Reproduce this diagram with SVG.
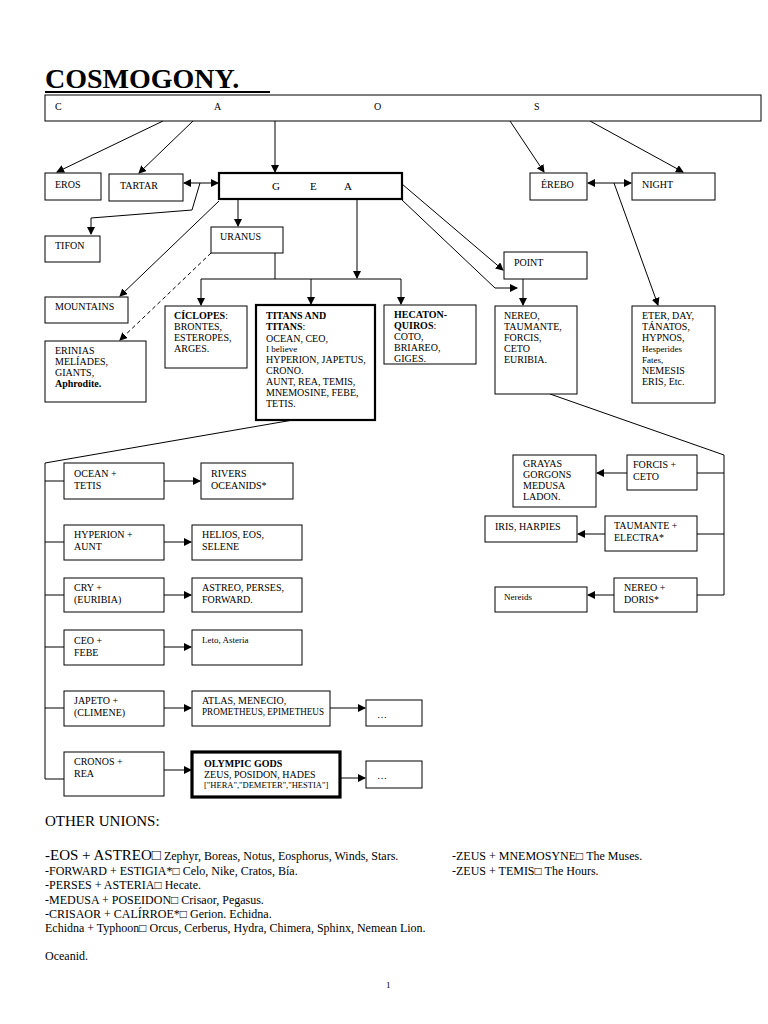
<svg xmlns="http://www.w3.org/2000/svg" width="768" height="1024" viewBox="0 0 768 1024">
<style>
text{font-family:"Liberation Serif","Times New Roman",serif;fill:#000}
.n{font-size:10px}
.b{font-weight:bold}
.box{fill:#fff;stroke:#000;stroke-width:1}
.thk{fill:#fff;stroke:#000;stroke-width:2.2}
.c{fill:none;stroke:#000;stroke-width:1}
.u{font-size:12px}
</style>
<defs>
<marker id="a" markerWidth="8" markerHeight="8" refX="7" refY="4" orient="auto-start-reverse" markerUnits="userSpaceOnUse"><path d="M0,0 L8,4 L0,8 z" fill="#000"/></marker>
</defs>
<rect width="768" height="1024" fill="#fff"/>
<text x="45" y="88" font-size="28" class="b">COSMOGONY.</text>
<line x1="45" y1="92" x2="270" y2="92" stroke="#000" stroke-width="2"/>

<g id="connectors">
<line class="c" x1="163" y1="121" x2="57" y2="172" marker-end="url(#a)"/>
<line class="c" x1="193" y1="121" x2="139" y2="173" marker-end="url(#a)"/>
<line class="c" x1="275" y1="121" x2="275" y2="172" marker-end="url(#a)"/>
<line class="c" x1="510" y1="121" x2="544" y2="172" marker-end="url(#a)"/>
<line class="c" x1="590" y1="121" x2="683" y2="172" marker-end="url(#a)"/>
<line class="c" x1="184" y1="183" x2="218" y2="183" marker-start="url(#a)" marker-end="url(#a)"/>
<polyline class="c" points="200,183 192,210 91,218 91,234" marker-end="url(#a)"/>
<line class="c" x1="238" y1="200" x2="238" y2="226" marker-end="url(#a)"/>
<line class="c" x1="219" y1="201" x2="120" y2="296" marker-end="url(#a)"/>
<line class="c" x1="211" y1="253" x2="120" y2="340" stroke-dasharray="4,3" marker-end="url(#a)"/>
<polyline class="c" points="275,253 275,279"/>
<polyline class="c" points="201,305 201,279 401,279 401,304" marker-start="url(#a)" marker-end="url(#a)"/>
<line class="c" x1="311" y1="279" x2="311" y2="304" marker-end="url(#a)"/>
<line class="c" x1="357" y1="200" x2="357" y2="278" marker-end="url(#a)"/>
<line class="c" x1="402" y1="184" x2="503" y2="270" marker-end="url(#a)"/>
<polyline class="c" points="402,200 495,288 517,288" marker-end="url(#a)"/>
<line class="c" x1="523" y1="279" x2="523" y2="305" marker-end="url(#a)"/>
<line class="c" x1="588" y1="183" x2="631" y2="183" marker-start="url(#a)" marker-end="url(#a)"/>
<line class="c" x1="614" y1="183" x2="658" y2="305" marker-end="url(#a)"/>
<polyline class="c" points="293,420 45,463 45,779"/>
<line class="c" x1="45" y1="481" x2="64" y2="481"/>
<line class="c" x1="45" y1="542" x2="64" y2="542"/>
<line class="c" x1="45" y1="595" x2="64" y2="595"/>
<line class="c" x1="45" y1="647" x2="64" y2="647"/>
<line class="c" x1="45" y1="708" x2="64" y2="708"/>
<line class="c" x1="45" y1="779" x2="64" y2="779"/>
<line class="c" x1="164" y1="481" x2="200" y2="481" marker-end="url(#a)"/>
<line class="c" x1="164" y1="542" x2="191" y2="542" marker-end="url(#a)"/>
<line class="c" x1="164" y1="595" x2="191" y2="595" marker-end="url(#a)"/>
<line class="c" x1="164" y1="647" x2="191" y2="647" marker-end="url(#a)"/>
<line class="c" x1="164" y1="708" x2="191" y2="708" marker-end="url(#a)"/>
<line class="c" x1="164" y1="770" x2="191" y2="770" marker-end="url(#a)"/>
<line class="c" x1="330" y1="708" x2="365" y2="708" marker-end="url(#a)"/>
<line class="c" x1="340" y1="778" x2="365" y2="778" marker-end="url(#a)"/>
<polyline class="c" points="550,394 724,455 724,595"/>
<line class="c" x1="697" y1="473" x2="724" y2="473"/>
<line class="c" x1="697" y1="534" x2="724" y2="534"/>
<line class="c" x1="697" y1="595" x2="724" y2="595"/>
<line class="c" x1="627" y1="473" x2="597" y2="473" marker-end="url(#a)"/>
<line class="c" x1="605" y1="534" x2="578" y2="534" marker-end="url(#a)"/>
<line class="c" x1="614" y1="595" x2="588" y2="595" marker-end="url(#a)"/>
</g>

<g id="caos"><rect class="box" x="45" y="95" width="716" height="26"/>
<text class="n" x="55" y="110">C</text><text class="n" x="214" y="110">A</text><text class="n" x="374" y="110">O</text><text class="n" x="534" y="110">S</text></g>
<g id="eros"><rect class="box" x="45" y="173" width="56" height="27"/><text class="n" x="55" y="188">EROS</text></g>
<g id="tartar"><rect class="box" x="109" y="174" width="74" height="27"/><text class="n" x="120" y="189">TARTAR</text></g>
<g id="gea"><rect class="thk" x="219" y="173" width="183" height="26"/>
<text x="272" y="190" font-size="11">G</text><text x="310" y="190" font-size="11">E</text><text x="344" y="190" font-size="11">A</text></g>
<g id="tifon"><rect class="box" x="45" y="236" width="55" height="26"/><text class="n" x="55" y="249">TIFON</text></g>
<g id="uranus"><rect class="box" x="211" y="227" width="72" height="26"/><text class="n" x="220" y="240">URANUS</text></g>
<g id="mountains"><rect class="box" x="45" y="297" width="83" height="26"/><text class="n" x="55" y="310">MOUNTAINS</text></g>
<g id="erinias"><rect class="box" x="45" y="341" width="101" height="61"/>
<text class="n" x="55" y="354">ERINIAS</text><text class="n" x="55" y="365">MELÍADES,</text><text class="n" x="55" y="376">GIANTS,</text><text class="n b" x="55" y="387">Aphrodite.</text></g>
<g id="ciclopes"><rect class="box" x="165" y="306" width="82" height="62"/>
<text class="n" x="174" y="319"><tspan class="b">CÍCLOPES</tspan>:</text><text class="n" x="174" y="330">BRONTES,</text><text class="n" x="174" y="341">ESTEROPES,</text><text class="n" x="174" y="352">ARGES.</text></g>
<g id="titans"><rect class="thk" x="256" y="305" width="119" height="115"/>
<text class="n b" x="266" y="319">TITANS AND</text><text class="n" x="266" y="330"><tspan class="b">TITANS</tspan>:</text>
<text class="n" x="266" y="342">OCEAN, CEO,</text><text x="266" y="352" font-size="9">I believe</text>
<text class="n" x="266" y="363">HYPERION, JAPETUS,</text><text class="n" x="266" y="374">CRONO.</text>
<text class="n" x="266" y="385">AUNT, REA, TEMIS,</text><text class="n" x="266" y="396">MNEMOSINE, FEBE,</text><text class="n" x="266" y="407">TETIS.</text></g>
<g id="hecaton"><rect class="box" x="384" y="305" width="92" height="59"/>
<text class="n b" x="394" y="318">HECATON-</text><text class="n" x="394" y="329"><tspan class="b">QUIROS</tspan>:</text>
<text class="n" x="394" y="340">COTO,</text><text class="n" x="394" y="351">BRIAREO,</text><text class="n" x="394" y="362">GIGES.</text></g>
<g id="point"><rect class="box" x="504" y="252" width="83" height="27"/><text class="n" x="514" y="266">POINT</text></g>
<g id="nereo"><rect class="box" x="495" y="306" width="82" height="88"/>
<text class="n" x="504" y="319">NEREO,</text><text class="n" x="504" y="330">TAUMANTE,</text><text class="n" x="504" y="341">FORCIS,</text><text class="n" x="504" y="352">CETO</text><text class="n" x="504" y="363">EURIBIA.</text></g>
<g id="erebo"><rect class="box" x="530" y="173" width="57" height="27"/><text class="n" x="541" y="188">ÉREBO</text></g>
<g id="night"><rect class="box" x="632" y="173" width="83" height="27"/><text class="n" x="642" y="188">NIGHT</text></g>
<g id="eter"><rect class="box" x="632" y="306" width="83" height="97"/>
<text class="n" x="642" y="319">ETER, DAY,</text><text class="n" x="642" y="330">TÁNATOS,</text><text class="n" x="642" y="341">HYPNOS,</text>
<text x="642" y="352" font-size="9">Hesperides</text><text x="642" y="363" font-size="9">Fates,</text>
<text class="n" x="642" y="374">NEMESIS</text><text class="n" x="642" y="385">ERIS, Etc.</text></g>

<g id="ocean"><rect class="box" x="64" y="463" width="100" height="36"/><text class="n" x="74" y="477">OCEAN +</text><text class="n" x="74" y="489">TETIS</text></g>
<g id="rivers"><rect class="box" x="201" y="463" width="92" height="36"/><text class="n" x="211" y="477">RIVERS</text><text class="n" x="211" y="489">OCEANIDS*</text></g>
<g id="hyperion"><rect class="box" x="64" y="525" width="100" height="35"/><text class="n" x="74" y="538">HYPERION +</text><text class="n" x="74" y="550">AUNT</text></g>
<g id="helios"><rect class="box" x="192" y="525" width="110" height="35"/><text class="n" x="202" y="538">HELIOS, EOS,</text><text class="n" x="202" y="550">SELENE</text></g>
<g id="cry"><rect class="box" x="64" y="578" width="100" height="34"/><text class="n" x="74" y="591">CRY +</text><text class="n" x="74" y="603">(EURIBIA)</text></g>
<g id="astreo"><rect class="box" x="192" y="578" width="110" height="34"/><text class="n" x="202" y="591">ASTREO, PERSES,</text><text class="n" x="202" y="603">FORWARD.</text></g>
<g id="ceo"><rect class="box" x="64" y="630" width="100" height="35"/><text class="n" x="74" y="644">CEO +</text><text class="n" x="74" y="656">FEBE</text></g>
<g id="leto"><rect class="box" x="192" y="630" width="110" height="35"/><text x="202" y="643" font-size="9">Leto, Asteria</text></g>
<g id="japeto"><rect class="box" x="64" y="691" width="100" height="35"/><text class="n" x="74" y="704">JAPETO +</text><text class="n" x="74" y="716">(CLIMENE)</text></g>
<g id="atlas"><rect class="box" x="192" y="691" width="138" height="35"/><text class="n" x="202" y="704">ATLAS, MENECIO,</text><text x="202" y="715" font-size="9.5" textLength="122" lengthAdjust="spacingAndGlyphs">PROMETHEUS, EPIMETHEUS</text></g>
<g id="dots1"><rect class="box" x="366" y="700" width="56" height="26"/><text class="n" x="377" y="718">…</text></g>
<g id="cronos"><rect class="box" x="64" y="752" width="100" height="44"/><text class="n" x="74" y="765">CRONOS +</text><text class="n" x="74" y="777">REA</text></g>
<g id="olympic"><rect x="192" y="752" width="148" height="45" fill="#fff" stroke="#000" style="stroke-width:3.2"/>
<text class="n b" x="204" y="767">OLYMPIC GODS</text><text class="n" x="204" y="778">ZEUS, POSIDON, HADES</text><text x="204" y="788" font-size="8.5">["HERA","DEMETER","HESTIA"]</text></g>
<g id="dots2"><rect class="box" x="366" y="761" width="56" height="27"/><text class="n" x="377" y="779">…</text></g>

<g id="forcis"><rect class="box" x="627" y="455" width="70" height="35"/><text class="n" x="633" y="468">FORCIS +</text><text class="n" x="633" y="480">CETO</text></g>
<g id="grayas"><rect class="box" x="513" y="455" width="83" height="52"/>
<text class="n" x="523" y="467">GRAYAS</text><text class="n" x="523" y="478">GORGONS</text><text class="n" x="523" y="489">MEDUSA</text><text class="n" x="523" y="500">LADON.</text></g>
<g id="taumante"><rect class="box" x="605" y="516" width="92" height="35"/><text class="n" x="614" y="529">TAUMANTE +</text><text class="n" x="614" y="541">ELECTRA*</text></g>
<g id="iris"><rect class="box" x="485" y="516" width="92" height="26"/><text class="n" x="495" y="530">IRIS, HARPIES</text></g>
<g id="doris"><rect class="box" x="614" y="578" width="83" height="34"/><text class="n" x="624" y="591">NEREO +</text><text class="n" x="624" y="603">DORIS*</text></g>
<g id="nereids"><rect class="box" x="495" y="587" width="92" height="25"/><text x="504" y="600" font-size="9">Nereids</text></g>

<g id="notes">
<text x="45" y="826" font-size="15">OTHER UNIONS:</text>
<text x="45" y="860" class="u"><tspan font-size="15">-EOS + ASTREO□</tspan> Zephyr, Boreas, Notus, Eosphorus, Winds, Stars.</text>
<text x="45" y="875" class="u">-FORWARD + ESTIGIA*□ Celo, Nike, Cratos, Bía.</text>
<text x="45" y="889" class="u">-PERSES + ASTERIA□ Hecate.</text>
<text x="45" y="904" class="u">-MEDUSA + POSEIDON□ Crisaor, Pegasus.</text>
<text x="45" y="918" class="u">-CRISAOR + CALÍRROE*□ Gerion. Echidna.</text>
<text x="45" y="932" class="u">Echidna + Typhoon□ Orcus, Cerberus, Hydra, Chimera, Sphinx, Nemean Lion.</text>
<text x="452" y="860" class="u">-ZEUS + MNEMOSYNE□ The Muses.</text>
<text x="452" y="875" class="u">-ZEUS + TEMIS□ The Hours.</text>
<text x="45" y="960" class="u">Oceanid.</text>
<text x="386" y="988" font-size="9">1</text>
</g>
</svg>
